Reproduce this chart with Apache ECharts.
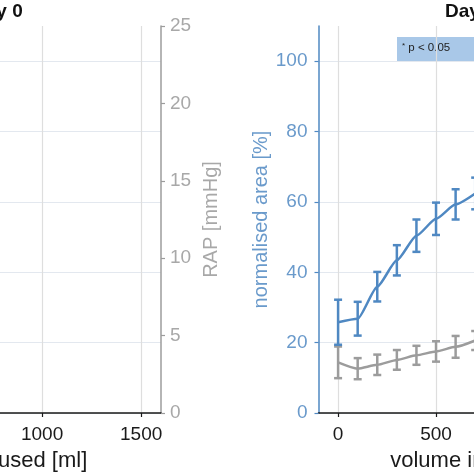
<!DOCTYPE html>
<html>
<head>
<meta charset="utf-8">
<script src="https://cdn.jsdelivr.net/npm/echarts@6/dist/echarts.min.js"></script>
<style>
  html, body { margin: 0; padding: 0; width: 474px; height: 474px; overflow: hidden; background: #fff; }
  /* the figure is wider than the view, we only see the middle of it */
  #main { position: absolute; left: -200px; top: 0; width: 900px; height: 474px; }
</style>
</head>
<body>
<div id="main"></div>
<script>
// volume infused [ml]
const volumes = [0, 100, 200, 300, 400, 500, 600, 700];
// normalised area [%], mean and half error bar
const blueMean = [25.8, 26.8, 35.9, 43.4, 50.4, 55.2, 59.3, 62.4];
const blueErr = [6.4, 4.8, 4.2, 4.3, 4.6, 4.6, 4.3, 4.5];
const grayMean = [14.4, 12.6, 13.7, 15.1, 16.4, 17.5, 18.8, 20.6];
const grayErr = [4.5, 3.0, 2.9, 2.8, 2.7, 2.9, 3.1, 2.7];
// tick labels
const xTicks = [0, 500, 1000, 1500];
const areaTicks = [0, 20, 40, 60, 80, 100];

const blue = '#4f88c2';
const blueText = '#6a9acb';
const gray = '#9c9c9c';
const grayText = '#a8a8a8';
const font = 'Liberation Sans, Arial, sans-serif';

let chart = echarts.init(document.getElementById('main'));

function errBars(mean, err) {
    return volumes.map(function (v, i) {
        return [v, mean[i] - err[i], mean[i] + err[i]];
    });
}

function errRender(color) {
    return function (params, api) {
        let x = api.value(0);
        let lo = api.coord([x, api.value(1)]);
        let hi = api.coord([x, api.value(2)]);
        let w = 4;
        let style = { stroke: color, lineWidth: 2.5 };
        return {
            type: 'group',
            children: [
                { type: 'line', shape: { x1: hi[0], y1: hi[1], x2: lo[0], y2: lo[1] }, style: style },
                { type: 'line', shape: { x1: hi[0] - w, y1: hi[1], x2: hi[0] + w, y2: hi[1] }, style: style },
                { type: 'line', shape: { x1: lo[0] - w, y1: lo[1], x2: lo[0] + w, y2: lo[1] }, style: style }
            ]
        };
    };
}

function xAxisOf(gridIndex) {
    return {
        type: 'value',
        gridIndex: gridIndex,
        min: -100,
        max: 1600,
        name: 'volume infused [ml]',
        nameLocation: 'middle',
        nameGap: 37,
        nameTextStyle: { color: '#1a1a1a', fontSize: 22, fontFamily: font },
        axisLine: { show: true, onZero: false, lineStyle: { color: '#1a1a1a', width: 1.5 } },
        axisTick: { show: true, length: 4, customValues: xTicks, lineStyle: { color: '#1a1a1a', width: 1.2 } },
        axisLabel: {
            customValues: xTicks, margin: 12, color: '#1a1a1a', fontSize: 19, fontFamily: font,
            formatter: function (v) { return String(v); }
        },
        splitLine: { show: true, lineStyle: { color: '#dedede', width: 1.2 } }
    };
}

function areaAxisOf(gridIndex) {
    return {
        type: 'value',
        gridIndex: gridIndex,
        position: 'left',
        min: 0,
        max: 110,
        name: 'normalised area [%]',
        nameLocation: 'middle',
        nameGap: 46,
        nameTextStyle: { color: blueText, fontSize: 20, fontFamily: font },
        axisLine: { show: true, onZero: false, lineStyle: { color: blue, width: 1.5 } },
        axisTick: { show: true, length: 4, customValues: areaTicks, lineStyle: { color: blue, width: 1.2 } },
        axisLabel: { customValues: areaTicks, margin: 11, color: blueText, fontSize: 19, fontFamily: font },
        splitLine: { show: true, lineStyle: { color: '#e3e8ef', width: 1.2 } }
    };
}

let option = {
    animation: false,
    backgroundColor: '#fff',
    grid: [
        { left: 24, top: 26, width: 337, height: 387, outerBoundsMode: 'none', containLabel: false },
        { left: 518.5, top: 26, width: 333, height: 387, outerBoundsMode: 'none', containLabel: false }
    ],
    xAxis: [xAxisOf(0), xAxisOf(1)],
    yAxis: [
        areaAxisOf(0),
        {
            type: 'value',
            gridIndex: 0,
            position: 'right',
            min: 0,
            max: 25,
            interval: 5,
            name: 'RAP [mmHg]',
            nameLocation: 'middle',
            nameGap: 40,
            nameTextStyle: { color: grayText, fontSize: 20, fontFamily: font },
            axisLine: { show: true, onZero: false, lineStyle: { color: gray, width: 1.5 } },
            axisTick: { show: true, length: 4, lineStyle: { color: gray, width: 1.2 } },
            axisLabel: { margin: 9, color: grayText, fontSize: 19, fontFamily: font },
            splitLine: { show: false }
        },
        areaAxisOf(1)
    ],
    series: [
        {
            name: 'gray',
            type: 'line',
            xAxisIndex: 1,
            yAxisIndex: 2,
            data: volumes.map(function (v, i) { return [v, grayMean[i]]; }),
            showSymbol: false,
            smooth: 0.2,
            smoothMonotone: 'x',
            lineStyle: { color: gray, width: 2.5 }
        },
        {
            name: 'gray err',
            type: 'custom',
            xAxisIndex: 1,
            yAxisIndex: 2,
            data: errBars(grayMean, grayErr),
            encode: { x: 0, y: [1, 2] },
            renderItem: errRender(gray)
        },
        {
            name: 'blue',
            type: 'line',
            xAxisIndex: 1,
            yAxisIndex: 2,
            data: volumes.map(function (v, i) { return [v, blueMean[i]]; }),
            showSymbol: false,
            smooth: 0.2,
            smoothMonotone: 'x',
            lineStyle: { color: blue, width: 2.5 }
        },
        {
            name: 'blue err',
            type: 'custom',
            xAxisIndex: 1,
            yAxisIndex: 2,
            data: errBars(blueMean, blueErr),
            encode: { x: 0, y: [1, 2] },
            renderItem: errRender(blue)
        }
    ],
    graphic: [
        // panel titles
        {
            type: 'text', left: 172, top: 2,
            style: { text: 'Day 0', fill: '#111', fontSize: 19, fontWeight: 'bold', fontFamily: font }
        },
        {
            type: 'text', left: 645, top: 2,
            style: { text: 'Day 1', fill: '#111', fontSize: 19, fontWeight: 'bold', fontFamily: font }
        },
        // significance box
        {
            type: 'rect', left: 597, top: 37,
            shape: { width: 110, height: 24 },
            style: { fill: '#a9c8e8' }
        },
        {
            type: 'text', left: 602, top: 42,
            style: {
                text: '{s|*} p < 0.05',
                fill: '#222',
                fontSize: 11.5,
                fontFamily: font,
                rich: { s: { fontSize: 8, verticalAlign: 'top', fill: '#222' } }
            }
        }
    ]
};

chart.setOption(option);
</script>
</body>
</html>
